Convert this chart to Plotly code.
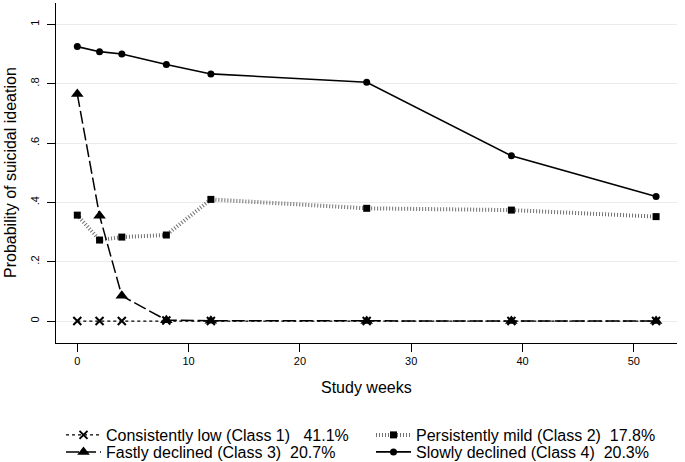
import plotly.graph_objects as go

weeks = [0, 2, 4, 8, 12, 26, 39, 52]
class1 = [0.0, 0.0, 0.0, 0.002, 0.0, 0.0, 0.0, 0.0]
class2 = [0.357, 0.273, 0.283, 0.290, 0.410, 0.380, 0.374, 0.352]
class3 = [0.765, 0.355, 0.085, 0.003, 0.001, 0.0, 0.0, 0.0]
class4 = [0.925, 0.908, 0.900, 0.865, 0.833, 0.805, 0.557, 0.420]

names = [
    "Consistently low (Class 1)\u00a0\u00a0\u00a041.1%",
    "Persistently mild (Class 2)\u00a0\u00a017.8%",
    "Fastly declined (Class 3)\u00a0\u00a020.7%",
    "Slowly declined (Class 4)\u00a0\u00a020.3%",
]
y_ticks = [0, 0.2, 0.4, 0.6, 0.8, 1]
y_labels = ["0", ".2", ".4", ".6", ".8", "1"]
x_ticks = [0, 10, 20, 30, 40, 50]
x_title = "Study weeks"
y_title = "Probability of suicidal ideation"

FONT = "Liberation Sans, Arial, Helvetica, sans-serif"
W, H = 685, 462
L, R, T, B = 56, 8, 3, 119
PW, PH = W - L - R, H - T - B


def px_to_paper_y(py):
    return (T + PH - py) / PH


def px_to_paper_x(px):
    return (px - L) / PW


fig = go.Figure()
fig.add_trace(go.Scatter(
    x=weeks, y=class1, name=names[0], mode="lines+markers", legend="legend",
    line=dict(color="black", width=1.3, dash="3px,3px"),
    marker=dict(symbol="x-thin", size=8, line=dict(color="black", width=2)),
))
fig.add_trace(go.Scatter(
    x=weeks, y=class2, name=names[1], mode="lines+markers", legend="legend",
    line=dict(color="#707070", width=4, dash="1px,2px"),
    marker=dict(symbol="square", size=7, color="black"),
))
fig.add_trace(go.Scatter(
    x=weeks, y=class3, name=names[2], mode="lines+markers", legend="legend2",
    line=dict(color="black", width=1.5, dash="13px,4px"),
    marker=dict(symbol="triangle-up", size=11, color="black"),
))
fig.add_trace(go.Scatter(
    x=weeks, y=class4, name=names[3], mode="lines+markers", legend="legend2",
    line=dict(color="black", width=1.6),
    marker=dict(symbol="circle", size=7, color="black"),
))

legend_common = dict(
    orientation="h", xref="paper", yref="paper",
    x=px_to_paper_x(61), xanchor="left", yanchor="middle",
    entrywidth=260, entrywidthmode="pixels",
    font=dict(size=16, family=FONT), itemwidth=35,
    tracegroupgap=0, traceorder="normal", bgcolor="rgba(0,0,0,0)",
)

fig.update_layout(
    width=W, height=H,
    margin=dict(l=L, r=R, t=T, b=B, autoexpand=False),
    paper_bgcolor="white", plot_bgcolor="white",
    font=dict(family=FONT, color="black", size=16),
    showlegend=True,
    legend=dict(legend_common, y=px_to_paper_y(435)),
    legend2=dict(legend_common, y=px_to_paper_y(452)),
    xaxis=dict(
        range=[-1.914, 53.88], tickvals=x_ticks,
        showgrid=False, zeroline=False, automargin=False,
        showline=True, linecolor="black", linewidth=1.4,
        ticks="outside", ticklen=8, tickcolor="black", tickwidth=1.2,
        tickfont=dict(size=11),
    ),
    yaxis=dict(
        range=[-0.074, 1.072], tickvals=y_ticks, ticktext=y_labels,
        tickangle=-90, automargin=False, ticklabelstandoff=3,
        showgrid=True, gridcolor="#ebebeb", gridwidth=1.4,
        zeroline=False,
        showline=True, linecolor="black", linewidth=1.4,
        ticks="outside", ticklen=8, tickcolor="black", tickwidth=1.2,
        tickfont=dict(size=11),
    ),
    annotations=[
        dict(text=x_title, xref="paper", yref="paper", x=0.5,
             y=px_to_paper_y(387),
             xanchor="center", yanchor="middle", showarrow=False, font=dict(size=16)),
        dict(text=y_title, xref="paper", yref="paper", x=px_to_paper_x(10), y=0.5,
             xanchor="center", yanchor="middle", textangle=-90, showarrow=False,
             font=dict(size=16)),
    ],
)

fig.write_html(
    "out.html",
    config={"displayModeBar": False},
    post_script="document.body.style.margin='0';document.body.style.padding='0';",
)
